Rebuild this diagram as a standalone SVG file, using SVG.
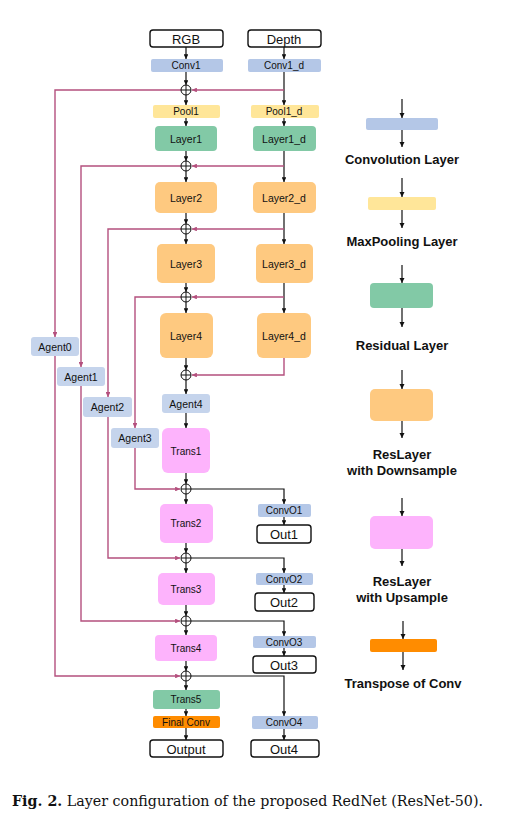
<svg xmlns="http://www.w3.org/2000/svg" width="511" height="832" viewBox="0 0 511 832">
<style>
.t{font-family:"Liberation Sans",Arial,sans-serif;fill:#111;text-anchor:middle;dominant-baseline:central}
.s{font-size:10px}
.m{font-size:10.5px}
.b{font-size:13px}
.lg{font-family:"Liberation Sans",Arial,sans-serif;font-weight:bold;font-size:13px;fill:#111;text-anchor:middle}
.io{fill:#fff;stroke:#111;stroke-width:1.4}
.conv{fill:#B4C7E7}
.agent{fill:#C5D4EC}
.pool{fill:#FFE699}
.res{fill:#82C9A6}
.down{fill:#FEC980}
.up{fill:#FDB3FC}
.fin{fill:#FF8C00}
.k{fill:none;stroke:#111;stroke-width:1.2}
.p{fill:none;stroke:#B4507E;stroke-width:1.4}
.plus{fill:#fff;stroke:#111;stroke-width:1}
</style>
<defs>
<marker id="ak" viewBox="0 0 6 6" refX="6" refY="3" markerWidth="4" markerHeight="4" orient="auto"><path d="M0,0L6,3L0,6z" fill="#111"/></marker>
<marker id="ap" viewBox="0 0 6 6" refX="6" refY="3" markerWidth="3.5" markerHeight="3.5" orient="auto"><path d="M0,0L6,3L0,6z" fill="#B4507E"/></marker>
<marker id="al" viewBox="0 0 6 6" refX="6" refY="3" markerWidth="4.5" markerHeight="4.5" orient="auto"><path d="M0,0L6,3L0,6z" fill="#111"/></marker>
<g id="plus"><circle r="5" class="plus"/><path d="M-5,0H5M0,-5V5" stroke="#111" stroke-width="1"/></g>
</defs>

<g id="connectors">
<path class="k" marker-end="url(#ak)" d="M186,47V59"/>
<path class="k" marker-end="url(#ak)" d="M284,47V59"/>
<path class="k" marker-end="url(#ak)" d="M186,72V85"/>
<path class="k" marker-end="url(#ak)" d="M284,72V105"/>
<path class="k" marker-end="url(#ak)" d="M186,95V105"/>
<path class="k" marker-end="url(#ak)" d="M186,118V126"/>
<path class="k" marker-end="url(#ak)" d="M284,118V126"/>
<path class="k" marker-end="url(#ak)" d="M186,151V161"/>
<path class="k" marker-end="url(#ak)" d="M284,151V182"/>
<path class="k" marker-end="url(#ak)" d="M186,171V182"/>
<path class="k" marker-end="url(#ak)" d="M186,213V224"/>
<path class="k" marker-end="url(#ak)" d="M284,213V244"/>
<path class="k" marker-end="url(#ak)" d="M186,234V244"/>
<path class="k" marker-end="url(#ak)" d="M186,283V292"/>
<path class="k" marker-end="url(#ak)" d="M284,283V313"/>
<path class="k" marker-end="url(#ak)" d="M186,302V313"/>
<path class="k" marker-end="url(#ak)" d="M186,358V370"/>
<path class="k" marker-end="url(#ak)" d="M186,380V394"/>
<path class="k" marker-end="url(#ak)" d="M186,413V428"/>
<path class="k" marker-end="url(#ak)" d="M186,473V484"/>
<path class="k" marker-end="url(#ak)" d="M186,494V504"/>
<path class="k" marker-end="url(#ak)" d="M191,489H284V504"/>
<path class="k" marker-end="url(#ak)" d="M284,517V525"/>
<path class="k" marker-end="url(#ak)" d="M186,543V553"/>
<path class="k" marker-end="url(#ak)" d="M186,563V573"/>
<path class="k" marker-end="url(#ak)" d="M191,558H284V573"/>
<path class="k" marker-end="url(#ak)" d="M284,585V593"/>
<path class="k" marker-end="url(#ak)" d="M186,605V616"/>
<path class="k" marker-end="url(#ak)" d="M186,626V635"/>
<path class="k" marker-end="url(#ak)" d="M191,621H284V636"/>
<path class="k" marker-end="url(#ak)" d="M284,648V656"/>
<path class="k" marker-end="url(#ak)" d="M186,661V671"/>
<path class="k" marker-end="url(#ak)" d="M186,681V690"/>
<path class="k" marker-end="url(#ak)" d="M191,676H284V716"/>
<path class="k" marker-end="url(#ak)" d="M186,709V716"/>
<path class="k" marker-end="url(#ak)" d="M186,728V740"/>
<path class="k" marker-end="url(#ak)" d="M284,729V740"/>
<path class="p" marker-end="url(#ap)" d="M284,90H192"/>
<path class="p" marker-end="url(#ap)" d="M284,166H192"/>
<path class="p" marker-end="url(#ap)" d="M284,229H192"/>
<path class="p" marker-end="url(#ap)" d="M284,297H192"/>
<path class="p" marker-end="url(#ap)" d="M284,358V375H192"/>
<path class="p" marker-end="url(#ap)" d="M181,90H55V337"/>
<path class="p" marker-end="url(#ap)" d="M181,166H81V367"/>
<path class="p" marker-end="url(#ap)" d="M181,229H108V397"/>
<path class="p" marker-end="url(#ap)" d="M181,297H135V428"/>
<path class="p" marker-end="url(#ap)" d="M135,448V489H180"/>
<path class="p" marker-end="url(#ap)" d="M108,417V558H180"/>
<path class="p" marker-end="url(#ap)" d="M81,386V621H180"/>
<path class="p" marker-end="url(#ap)" d="M55,356V676H180"/>
<path class="k" marker-end="url(#al)" d="M402,99V118"/>
<path class="k" marker-end="url(#al)" d="M402,130V147"/>
<path class="k" marker-end="url(#al)" d="M402,178V197"/>
<path class="k" marker-end="url(#al)" d="M402,210V228"/>
<path class="k" marker-end="url(#al)" d="M402,265V283"/>
<path class="k" marker-end="url(#al)" d="M402,308V327"/>
<path class="k" marker-end="url(#al)" d="M402,370V389"/>
<path class="k" marker-end="url(#al)" d="M402,421V438"/>
<path class="k" marker-end="url(#al)" d="M402,498V516"/>
<path class="k" marker-end="url(#al)" d="M402,549V566"/>
<path class="k" marker-end="url(#al)" d="M403,621V639"/>
<path class="k" marker-end="url(#al)" d="M403,652V670"/>
</g>

<g id="fusions">
<use href="#plus" x="186" y="90"/>
<use href="#plus" x="186" y="166"/>
<use href="#plus" x="186" y="229"/>
<use href="#plus" x="186" y="297"/>
<use href="#plus" x="186" y="375"/>
<use href="#plus" x="186" y="489"/>
<use href="#plus" x="186" y="558"/>
<use href="#plus" x="186" y="621"/>
<use href="#plus" x="186" y="676"/>
</g>

<g id="rgb"><rect class="io" x="150" y="30" width="73" height="17" rx="3"/><text class="t b" x="186" y="39">RGB</text></g>
<g id="depth"><rect class="io" x="248" y="30" width="73" height="17" rx="3"/><text class="t b" x="284" y="39">Depth</text></g>
<g id="conv1"><rect class="conv" x="151" y="59" width="72" height="13" rx="2"/><text class="t s" x="186" y="65.5">Conv1</text></g>
<g id="conv1_d"><rect class="conv" x="248" y="59" width="73" height="13" rx="2"/><text class="t s" x="284" y="65.5">Conv1_d</text></g>
<g id="pool1"><rect class="pool" x="153" y="105" width="67" height="13" rx="2"/><text class="t s" x="186" y="111.5">Pool1</text></g>
<g id="pool1_d"><rect class="pool" x="251" y="105" width="68" height="13" rx="2"/><text class="t s" x="284" y="111.5">Pool1_d</text></g>
<g id="layer1"><rect class="res" x="155" y="126" width="62" height="25" rx="4"/><text class="t m" x="186" y="138.5">Layer1</text></g>
<g id="layer1_d"><rect class="res" x="253" y="126" width="63" height="25" rx="4"/><text class="t m" x="284" y="138.5">Layer1_d</text></g>
<g id="layer2"><rect class="down" x="155" y="182" width="62" height="31" rx="5"/><text class="t m" x="186" y="197.5">Layer2</text></g>
<g id="layer2_d"><rect class="down" x="253" y="182" width="63" height="31" rx="5"/><text class="t m" x="284" y="197.5">Layer2_d</text></g>
<g id="layer3"><rect class="down" x="157" y="244" width="58" height="39" rx="5"/><text class="t m" x="186" y="263.5">Layer3</text></g>
<g id="layer3_d"><rect class="down" x="256" y="244" width="57" height="39" rx="5"/><text class="t m" x="284" y="263.5">Layer3_d</text></g>
<g id="layer4"><rect class="down" x="160" y="313" width="53" height="45" rx="6"/><text class="t m" x="186" y="335.5">Layer4</text></g>
<g id="layer4_d"><rect class="down" x="257" y="313" width="54" height="45" rx="6"/><text class="t m" x="284" y="335.5">Layer4_d</text></g>
<g id="agent0"><rect class="agent" x="31" y="337" width="48" height="19" rx="3"/><text class="t m" x="55" y="346.5">Agent0</text></g>
<g id="agent1"><rect class="agent" x="57" y="367" width="48" height="19" rx="3"/><text class="t m" x="81" y="376.5">Agent1</text></g>
<g id="agent2"><rect class="agent" x="83" y="397" width="49" height="20" rx="3"/><text class="t m" x="107.5" y="407">Agent2</text></g>
<g id="agent3"><rect class="agent" x="111" y="428" width="48" height="20" rx="3"/><text class="t m" x="135" y="438">Agent3</text></g>
<g id="agent4"><rect class="agent" x="162" y="394" width="48" height="19" rx="3"/><text class="t m" x="186" y="403.5">Agent4</text></g>
<g id="trans1"><rect class="up" x="162" y="428" width="48" height="45" rx="6"/><text class="t s" x="186" y="451">Trans1</text></g>
<g id="trans2"><rect class="up" x="160" y="504" width="53" height="39" rx="5"/><text class="t s" x="186" y="523.5">Trans2</text></g>
<g id="trans3"><rect class="up" x="158" y="573" width="57" height="32" rx="5"/><text class="t s" x="186" y="589">Trans3</text></g>
<g id="trans4"><rect class="up" x="155" y="635" width="62" height="26" rx="4"/><text class="t s" x="186" y="648">Trans4</text></g>
<g id="trans5"><rect class="res" x="153" y="690" width="67" height="19" rx="3"/><text class="t s" x="186" y="699.5">Trans5</text></g>
<g id="finalconv"><rect class="fin" x="153" y="716" width="67" height="12" rx="2"/><text class="t s" x="186" y="722">Final Conv</text></g>
<g id="output"><rect class="io" x="150" y="740" width="73" height="17" rx="3"/><text class="t b" x="186" y="749">Output</text></g>
<g id="convo1"><rect class="conv" x="258" y="504" width="53" height="13" rx="2"/><text class="t s" x="284" y="510.5">ConvO1</text></g>
<g id="out1"><rect class="io" x="257" y="525" width="54" height="18" rx="3"/><text class="t b" x="284" y="534.5">Out1</text></g>
<g id="convo2"><rect class="conv" x="256" y="573" width="57" height="12" rx="2"/><text class="t s" x="284" y="579">ConvO2</text></g>
<g id="out2"><rect class="io" x="255" y="593" width="59" height="18" rx="3"/><text class="t b" x="284" y="602.5">Out2</text></g>
<g id="convo3"><rect class="conv" x="253" y="636" width="63" height="12" rx="2"/><text class="t s" x="284" y="642">ConvO3</text></g>
<g id="out3"><rect class="io" x="253" y="656" width="63" height="17" rx="3"/><text class="t b" x="284" y="665">Out3</text></g>
<g id="convo4"><rect class="conv" x="252" y="716" width="66" height="13" rx="2"/><text class="t s" x="284" y="722.5">ConvO4</text></g>
<g id="out4"><rect class="io" x="251" y="740" width="68" height="17" rx="3"/><text class="t b" x="284" y="749">Out4</text></g>

<g id="legend">
<rect class="conv" x="366" y="118" width="72" height="12" rx="2"/>
<text class="lg" x="402" y="164">Convolution Layer</text>
<rect class="pool" x="368" y="197" width="68" height="13" rx="2"/>
<text class="lg" x="402" y="246">MaxPooling Layer</text>
<rect class="res" x="370" y="283" width="63" height="25" rx="4"/>
<text class="lg" x="402" y="350">Residual Layer</text>
<rect class="down" x="370" y="389" width="63" height="32" rx="5"/>
<text class="lg" x="402" y="459">ResLayer</text>
<text class="lg" x="402" y="475">with Downsample</text>
<rect class="up" x="370" y="516" width="63" height="33" rx="5"/>
<text class="lg" x="402" y="586">ResLayer</text>
<text class="lg" x="402" y="602">with Upsample</text>
<rect class="fin" x="370" y="639" width="67" height="13" rx="2"/>
<text class="lg" x="403" y="688">Transpose of Conv</text>
</g>

<text x="12" y="806" font-family="'DejaVu Serif','Liberation Serif',serif" font-size="14.5" fill="#111" textLength="471" lengthAdjust="spacingAndGlyphs"><tspan font-weight="bold">Fig. 2.</tspan> Layer configuration of the proposed RedNet (ResNet-50).</text>
</svg>
